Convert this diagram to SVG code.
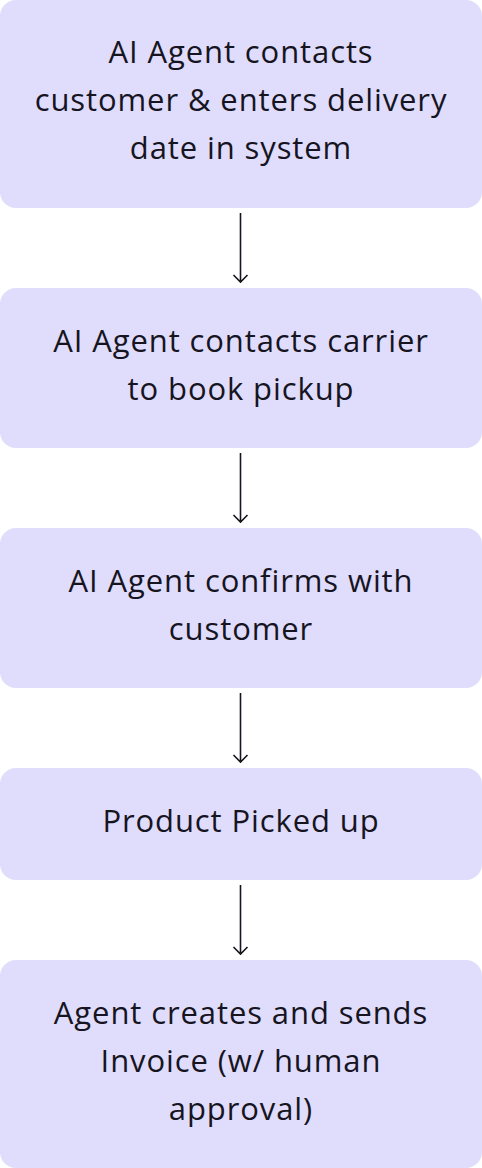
<svg xmlns="http://www.w3.org/2000/svg" width="482" height="1168" viewBox="0 0 482 1168">
<style>
.box{fill:#E0DCFC}
.t{font-family:"Open Sans",Lato,sans-serif;font-size:31px;letter-spacing:0.9px;fill:#16151F;text-anchor:middle}
.c{stroke:#16151F;stroke-width:1.6;fill:none}
</style>
<g id="n1"><rect class="box" x="0" y="0" width="482" height="208" rx="16"/>
<text class="t" x="241" y="63">AI Agent contacts</text>
<text class="t" x="241" y="111">customer &amp; enters delivery</text>
<text class="t" x="241" y="159">date in system</text></g>
<g id="n2"><rect class="box" x="0" y="288" width="482" height="160" rx="16"/>
<text class="t" x="241" y="352">AI Agent contacts carrier</text>
<text class="t" x="241" y="400">to book pickup</text></g>
<g id="n3"><rect class="box" x="0" y="528" width="482" height="160" rx="16"/>
<text class="t" x="241" y="592">AI Agent confirms with</text>
<text class="t" x="241" y="640">customer</text></g>
<g id="n4"><rect class="box" x="0" y="768" width="482" height="112" rx="16"/>
<text class="t" x="241" y="832">Product Picked up</text></g>
<g id="n5"><rect class="box" x="0" y="960" width="482" height="208" rx="16"/>
<text class="t" x="241" y="1024">Agent creates and sends</text>
<text class="t" x="241" y="1072">Invoice (w/ human</text>
<text class="t" x="241" y="1120">approval)</text></g>
<g id="connectors">
<path class="c" d="M240.5,213 V282 M233.5,275 L240.5,282 L247.5,275"/>
<path class="c" d="M240.5,453 V522 M233.5,515 L240.5,522 L247.5,515"/>
<path class="c" d="M240.5,693 V762 M233.5,755 L240.5,762 L247.5,755"/>
<path class="c" d="M240.5,885 V954 M233.5,947 L240.5,954 L247.5,947"/>
</g>
</svg>
